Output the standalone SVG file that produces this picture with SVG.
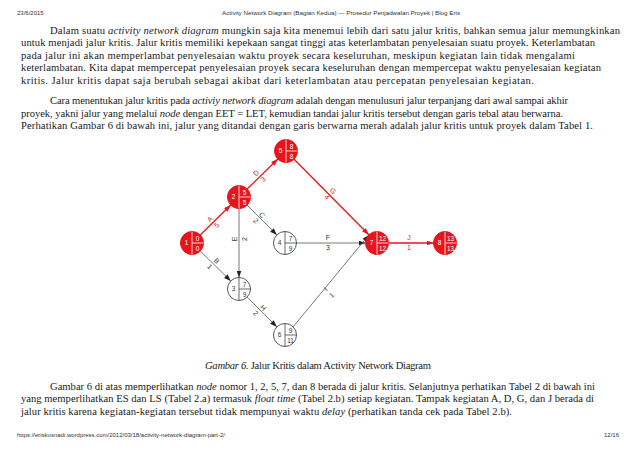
<svg xmlns="http://www.w3.org/2000/svg" width="638" height="451" viewBox="0 0 638 451">
<style>
.hd{font-family:"Liberation Sans",Arial,sans-serif;font-size:6px;fill:#333}
.p{font-family:"Liberation Serif","Times New Roman",serif;font-size:10.6px;fill:#1a1a1a}
.i{font-style:italic}
.nt{font-family:"Liberation Sans",Arial,sans-serif;font-size:6.5px;text-anchor:middle}
.lb{font-family:"Liberation Sans",Arial,sans-serif;font-size:7px;text-anchor:middle}
.crit circle{fill:#e8141b;stroke:#e8141b;stroke-width:1}
.crit line{stroke:#fff;stroke-width:0.8}
.crit text{fill:#fff}
.norm circle{fill:#fff;stroke:#444;stroke-width:0.9}
.norm line{stroke:#444;stroke-width:0.8}
.norm text{fill:#333}
.er{stroke:#e8141b;stroke-width:1.3;fill:none;marker-end:url(#ar)}
.eb{stroke:#555;stroke-width:0.8;fill:none;marker-end:url(#ab)}
.lr{fill:#e8141b}
.lk{fill:#333}
</style>
<defs>
<marker id="ar" markerUnits="userSpaceOnUse" markerWidth="8" markerHeight="6" refX="7" refY="2.5" orient="auto"><path d="M0,0 L7,2.5 L0,5 z" fill="#e8141b"/></marker>
<marker id="ab" markerUnits="userSpaceOnUse" markerWidth="8" markerHeight="6" refX="7" refY="2.5" orient="auto"><path d="M0,0 L7,2.5 L0,5 z" fill="#222"/></marker>
</defs>
<rect width="638" height="451" fill="#fff"/>

<g id="header">
<text class="hd" x="17" y="15">23/6/2015</text>
<text class="hd" x="222" y="15" textLength="238" lengthAdjust="spacingAndGlyphs">Activity Network Diagram (Bagian Kedua) — Prosedur Penjadwalan Proyek | Blog Eris</text>
</g>

<g id="para1">
<text class="p" x="50" y="33.5" textLength="570" lengthAdjust="spacing">Dalam suatu <tspan class="i">activity network diagram</tspan>  mungkin saja kita menemui lebih dari satu jalur kritis, bahkan semua jalur memungkinkan</text>
<text class="p" x="21" y="46" textLength="574" lengthAdjust="spacing">untuk menjadi jalur kritis. Jalur kritis  memiliki kepekaan sangat tinggi atas keterlambatan penyelesaian suatu proyek. Keterlambatan</text>
<text class="p" x="21" y="58.5" textLength="554" lengthAdjust="spacing">pada jalur ini akan memperlambat penyelesaian waktu proyek secara keseluruhan, meskipun kegiatan lain tidak mengalami</text>
<text class="p" x="21" y="71" textLength="580" lengthAdjust="spacing">keterlambatan. Kita dapat  mempercepat penyelesaian proyek secara keseluruhan dengan mempercepat waktu penyelesaian kegiatan</text>
<text class="p" x="21" y="83.5" textLength="513" lengthAdjust="spacing">kritis. Jalur kritis dapat saja berubah sebagai akibat dari keterlambatan atau percepatan penyelesaian kegiatan.</text>
</g>

<g id="para2">
<text class="p" x="50" y="104" textLength="518" lengthAdjust="spacing">Cara menentukan jalur kritis pada <tspan class="i">activiy network diagram</tspan> adalah dengan menulusuri jalur terpanjang dari awal sampai akhir</text>
<text class="p" x="21" y="116.5" textLength="542" lengthAdjust="spacing">proyek, yakni jalur yang melalui <tspan class="i">node</tspan> dengan EET = LET, kemudian tandai jalur kritis tersebut dengan garis tebal atau berwarna.</text>
<text class="p" x="21" y="129" textLength="572" lengthAdjust="spacing">Perhatikan Gambar 6 di bawah ini, jalur yang ditandai  dengan garis berwarna merah adalah jalur kritis untuk proyek dalam Tabel 1.</text>
</g>

<g id="connectors">
<line class="er" x1="200.2" y1="235" x2="230.8" y2="205"/>
<line class="er" x1="247.2" y1="189" x2="277.8" y2="159"/>
<line class="er" x1="294.1" y1="159.2" x2="368.9" y2="234.8"/>
<line class="er" x1="388.5" y1="243" x2="433.5" y2="243"/>
<line class="eb" x1="247.1" y1="205.1" x2="276.9" y2="234.9"/>
<line class="eb" x1="239" y1="208.5" x2="239" y2="277.5"/>
<line class="eb" x1="200.2" y1="251" x2="230.8" y2="281"/>
<line class="eb" x1="296.5" y1="243" x2="365.5" y2="243"/>
<line class="eb" x1="247.1" y1="297.1" x2="276.9" y2="326.9"/>
<line class="eb" x1="293.1" y1="326.9" x2="368.9" y2="234.9"/>
<g class="lb">
<text class="lb lr" transform="translate(210,219) rotate(-45)" y="2.5">A</text>
<text class="lb lr" transform="translate(216.5,225) rotate(-45)" y="2.5">5</text>
<text class="lb lr" transform="translate(256,173) rotate(-45)" y="2.5">D</text>
<text class="lb lr" transform="translate(263,179) rotate(-45)" y="2.5">3</text>
<text class="lb lr" transform="translate(333,191) rotate(45)" y="2.5">G</text>
<text class="lb lr" transform="translate(327,197) rotate(45)" y="2.5">4</text>
<text class="lb lr" x="409" y="240">J</text>
<text class="lb lr" x="409" y="250">1</text>
<text class="lb lk" transform="translate(262,215) rotate(45)" y="2.5">C</text>
<text class="lb lk" transform="translate(256,220.5) rotate(45)" y="2.5">2</text>
<text class="lb lk" transform="translate(234,239) rotate(-90)" y="2.5">E</text>
<text class="lb lk" transform="translate(244,239) rotate(-90)" y="2.5">2</text>
<text class="lb lk" transform="translate(216.7,261) rotate(45)" y="2.5">B</text>
<text class="lb lk" transform="translate(210,266.7) rotate(45)" y="2.5">1</text>
<text class="lb lk" x="328" y="240">F</text>
<text class="lb lk" x="328" y="250">3</text>
<text class="lb lk" transform="translate(263,307.7) rotate(45)" y="2.5">H</text>
<text class="lb lk" transform="translate(256,313) rotate(45)" y="2.5">2</text>
<text class="lb lk" transform="translate(325.7,289) rotate(-45)" y="2.5">I</text>
<text class="lb lk" transform="translate(331.7,295) rotate(-45)" y="2.5">1</text>
</g>
</g>

<g id="node1" class="crit" transform="translate(192,243)"><circle r="11.5"/><line x1="0" y1="-11.5" x2="0" y2="11.5"/><line x1="0" y1="0" x2="11.5" y2="0"/><text class="nt" x="-5.5" y="2.3">1</text><text class="nt" x="5.5" y="-2.5">0</text><text class="nt" x="5.5" y="7.5">0</text></g>
<g id="node2" class="crit" transform="translate(239,197)"><circle r="11.5"/><line x1="0" y1="-11.5" x2="0" y2="11.5"/><line x1="0" y1="0" x2="11.5" y2="0"/><text class="nt" x="-5.5" y="2.3">2</text><text class="nt" x="5.5" y="-2.5">5</text><text class="nt" x="5.5" y="7.5">5</text></g>
<g id="node5" class="crit" transform="translate(286,151)"><circle r="11.5"/><line x1="0" y1="-11.5" x2="0" y2="11.5"/><line x1="0" y1="0" x2="11.5" y2="0"/><text class="nt" x="-5.5" y="2.3">5</text><text class="nt" x="5.5" y="-2.5">8</text><text class="nt" x="5.5" y="7.5">8</text></g>
<g id="node7" class="crit" transform="translate(377,243)"><circle r="11.5"/><line x1="0" y1="-11.5" x2="0" y2="11.5"/><line x1="0" y1="0" x2="11.5" y2="0"/><text class="nt" x="-5.5" y="2.3">7</text><text class="nt" x="5.5" y="-2.5">12</text><text class="nt" x="5.5" y="7.5">12</text></g>
<g id="node8" class="crit" transform="translate(445,243)"><circle r="11.5"/><line x1="0" y1="-11.5" x2="0" y2="11.5"/><line x1="0" y1="0" x2="11.5" y2="0"/><text class="nt" x="-5.5" y="2.3">8</text><text class="nt" x="5.5" y="-2.5">13</text><text class="nt" x="5.5" y="7.5">13</text></g>
<g id="node4" class="norm" transform="translate(285,243)"><circle r="11.5"/><line x1="0" y1="-11.5" x2="0" y2="11.5"/><line x1="0" y1="0" x2="11.5" y2="0"/><text class="nt" x="-5.5" y="2.3">4</text><text class="nt" x="5.5" y="-2.5">7</text><text class="nt" x="5.5" y="7.5">9</text></g>
<g id="node3" class="norm" transform="translate(239,289)"><circle r="11.5"/><line x1="0" y1="-11.5" x2="0" y2="11.5"/><line x1="0" y1="0" x2="11.5" y2="0"/><text class="nt" x="-5.5" y="2.3">3</text><text class="nt" x="5.5" y="-2.5">7</text><text class="nt" x="5.5" y="7.5">9</text></g>
<g id="node6" class="norm" transform="translate(285,335)"><circle r="11.5"/><line x1="0" y1="-11.5" x2="0" y2="11.5"/><line x1="0" y1="0" x2="11.5" y2="0"/><text class="nt" x="-5.5" y="2.3">6</text><text class="nt" x="5.5" y="-2.5">9</text><text class="nt" x="5.5" y="7.5">11</text></g>

<g id="caption">
<text class="p" x="318" y="368.5" text-anchor="middle" textLength="226" lengthAdjust="spacing"><tspan class="i">Gambar 6.</tspan> Jalur Kritis dalam Activity Network Diagram</text>
</g>

<g id="para3">
<text class="p" x="50" y="389.5" textLength="545" lengthAdjust="spacing">Gambar 6 di atas memperlihatkan <tspan class="i">node</tspan> nomor 1, 2, 5, 7, dan 8 berada di jalur kritis. Selanjutnya perhatikan Tabel 2 di bawah ini</text>
<text class="p" x="21" y="402" textLength="573" lengthAdjust="spacing">yang memperlihatkan ES dan LS  (Tabel 2.a) termasuk <tspan class="i">float time</tspan>  (Tabel 2.b) setiap kegiatan. Tampak kegiatan A, D, G, dan J berada di</text>
<text class="p" x="21" y="414.5" textLength="491" lengthAdjust="spacing">jalur kritis karena kegiatan-kegiatan tersebut tidak mempunyai waktu <tspan class="i">delay</tspan> (perhatikan tanda cek pada Tabel 2.b).</text>
</g>

<g id="footer">
<text class="hd" x="17" y="437" textLength="208" lengthAdjust="spacingAndGlyphs">https://eriskusnadi.wordpress.com/2012/03/18/activity-network-diagram-part-2/</text>
<text class="hd" x="604" y="437">12/16</text>
</g>
</svg>
